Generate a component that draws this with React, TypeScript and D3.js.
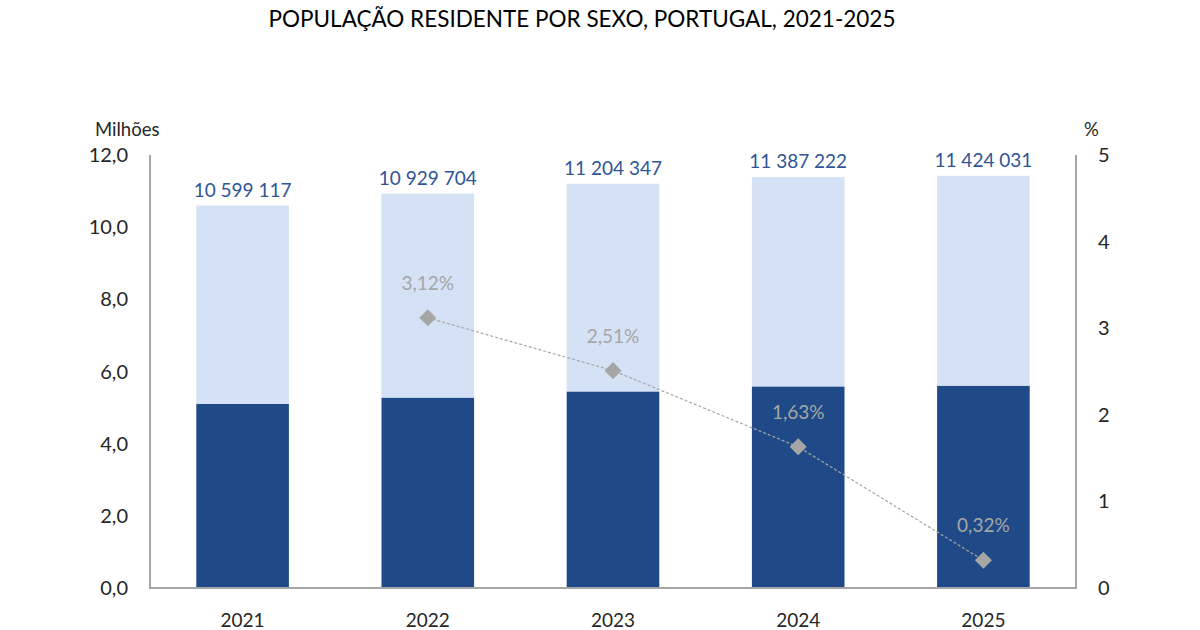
import React from 'react';
import * as d3 from 'd3';

const YEARS = ['2021', '2022', '2023', '2024', '2025'];
const TOTAL = [10599117, 10929704, 11204347, 11387222, 11424031];
// lower segment of each stacked bar, in millions
const LOWER = [5.1, 5.27, 5.44, 5.58, 5.6];
const GROWTH = [null, 3.12, 2.51, 1.63, 0.32];
const LEFT_TICKS = [0, 2, 4, 6, 8, 10, 12];
const RIGHT_TICKS = [0, 1, 2, 3, 4, 5];

const W = 1200;
const H = 630;
const FONT = 'Lato, "Open Sans", sans-serif';
const DARK = '#1F4A87';
const LIGHT = '#D5E1F5';
const GREY = '#A6A6A6';
const BLUE_TEXT = '#2F5597';

const fmtTotal = (v: number) => d3.format(',')(v).replace(/,/g, ' ');
const fmtPct = (v: number) => v.toFixed(2).replace('.', ',') + '%';

export default function App() {
  const left = 150;
  const right = 1076;
  const top = 155;
  const bottom = 588;

  const x = d3.scaleBand<string>().domain(YEARS).range([left, right]).paddingInner(0.5).paddingOuter(0.25);
  const y = d3.scaleLinear().domain([0, 12]).range([bottom, top]);
  const y2 = d3.scaleLinear().domain([0, 5]).range([bottom, top]);

  const rows = YEARS.map((yr, i) => ({
    yr,
    total: TOTAL[i] / 1e6,
    lower: LOWER[i],
    growth: GROWTH[i],
    cx: (x(yr) as number) + x.bandwidth() / 2,
  }));

  const pts = rows.filter((r) => r.growth != null);
  const line = d3
    .line<(typeof rows)[number]>()
    .x((d) => d.cx)
    .y((d) => y2(d.growth as number));

  const diamond = d3.symbol().type(d3.symbolDiamond2).size(185);

  return (
    <svg width={W} height={H} style={{ position: 'absolute', left: 0, top: 0, background: '#fff' }} fontFamily={FONT}>
      <text x={582} y={27} textAnchor="middle" fontSize={22.5} fill="#000">
        POPULAÇÃO RESIDENTE POR SEXO, PORTUGAL, 2021-2025
      </text>

      {/* stacked bars */}
      {rows.map((r, i) => (
        <g key={r.yr}>
          <rect x={x(r.yr)} y={y(r.total)} width={x.bandwidth()} height={y(r.lower) - y(r.total)} fill={LIGHT} />
          <rect x={x(r.yr)} y={y(r.lower)} width={x.bandwidth()} height={y(0) - y(r.lower)} fill={DARK} />
          <text x={r.cx} y={y(r.total) - 9} textAnchor="middle" fontSize={19} fill={BLUE_TEXT}>
            {fmtTotal(TOTAL[i])}
          </text>
          <text x={r.cx} y={bottom + 39} textAnchor="middle" fontSize={19} fill="#262626">
            {r.yr}
          </text>
        </g>
      ))}

      {/* axes */}
      <path d={`M${left},${top}V${bottom}H${right}V${top}`} fill="none" stroke={GREY} strokeWidth={2} />
      {LEFT_TICKS.map((t) => (
        <text key={t} x={128} y={y(t) + 7} textAnchor="end" fontSize={20} fill="#262626">
          {t.toFixed(1).replace('.', ',')}
        </text>
      ))}
      {RIGHT_TICKS.map((t) => (
        <text key={t} x={1098} y={y2(t) + 7} textAnchor="start" fontSize={20} fill="#262626">
          {t}
        </text>
      ))}
      <text x={95} y={136} fontSize={18.5} fill="#262626">
        Milhões
      </text>
      <text x={1084} y={136} fontSize={18.5} fill="#262626">
        %
      </text>

      {/* growth rate line */}
      <path d={line(pts) as string} fill="none" stroke={GREY} strokeWidth={1.2} strokeDasharray="3,2" />
      {pts.map((r) => (
        <g key={r.yr}>
          <path d={diamond() as string} transform={`translate(${r.cx},${y2(r.growth as number)})`} fill={GREY} />
          <text x={r.cx} y={y2(r.growth as number) - 28} textAnchor="middle" fontSize={19} fill={GREY}>
            {fmtPct(r.growth as number)}
          </text>
        </g>
      ))}
    </svg>
  );
}
